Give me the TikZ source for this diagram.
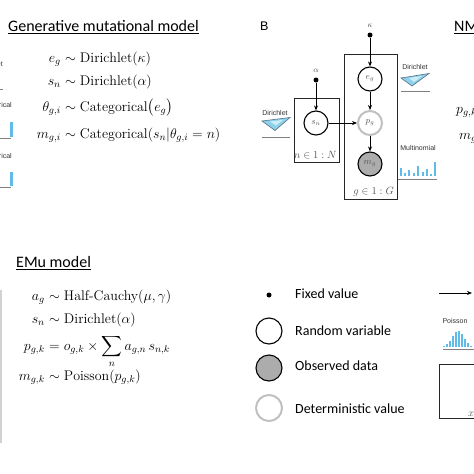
\documentclass[tikz,border=0pt]{standalone}
\usepackage{fix-cm}
\usepackage{amsmath}
\usepackage{fontspec}
\newfontfamily\carl{Carlito}
\newfontfamily\arl{Liberation Sans}
\usetikzlibrary{arrows.meta}
\definecolor{iconblue}{RGB}{95,188,232}
\definecolor{tribord}{RGB}{85,110,130}
\definecolor{trifill}{RGB}{140,210,235}
\definecolor{trilight}{RGB}{205,238,248}
\definecolor{detgray}{RGB}{192,192,192}
\definecolor{obsgray}{RGB}{172,172,172}
\definecolor{labgray}{RGB}{85,85,85}
\begin{document}
\begin{tikzpicture}[x=1pt,y=-1pt,
  eq/.style={inner sep=0pt, font=\fontsize{14}{16}\selectfont},
  title/.style={inner sep=0pt, anchor=base west, font=\carl\fontsize{16}{19}\selectfont},
  legtxt/.style={inner sep=0pt, anchor=base west, font=\carl\fontsize{14}{16}\selectfont},
  small/.style={inner sep=0pt, font=\arl\fontsize{7}{8}\selectfont, text=black!80},
  rv/.style={circle, draw=black, line width=1.1pt, minimum size=24pt, inner sep=0pt, font=\fontsize{9}{10}\selectfont, text=labgray},
  obs/.style={rv, fill=obsgray},
  det/.style={rv, draw=detgray, line width=2pt},
  fixed/.style={circle, fill=black, minimum size=5pt, inner sep=0pt},
  plate/.style={draw=black!85, line width=0.9pt, inner sep=0pt},
  arr/.style={-{Stealth[length=5pt,width=4pt]}, line width=0.8pt},
  platelab/.style={inner sep=0pt, font=\fontsize{10.5}{12}\selectfont, text=labgray},
  hyp/.style={inner sep=0pt, font=\fontsize{8}{9}\selectfont, text=labgray},
  baseline/.style={draw=gray, line width=0.6pt},
]
\useasboundingbox (0,0) rectangle (474,474);
\fill[white] (0,0) rectangle (474,474);
\clip (0,0) rectangle (474,474);

% ---------- left cut-off fragments ----------
\node[small, anchor=base east] (frd) at (3,66) {Dirichlet};
\draw[baseline] (-20,89) -- (3,89);
\node[small, anchor=base east] (frc1) at (12,107) {Categorical};
\fill[iconblue] (10,122) rectangle (12.5,137);
\draw[baseline] (-20,138) -- (11,138);
\node[small, anchor=base east] (frc2) at (12,158) {Categorical};
\fill[iconblue] (10,172) rectangle (12.5,186);
\draw[baseline] (-20,187) -- (11,187);
\draw[gray!35, line width=2pt] (1,290) -- (1,443);

% ---------- Generative mutational model ----------
\node[title] (t1) at (8,31) {\underline{Generative mutational model}};
\node[eq, anchor=base east] (a1) at (61,62) {$e_g$};
\node[eq, anchor=base west] (b1) at (65,62) {$\sim\mathrm{Dirichlet}(\kappa)$};
\node[eq, anchor=base east] (a2) at (61,85) {$s_n$};
\node[eq, anchor=base west] (b2) at (65,85) {$\sim\mathrm{Dirichlet}(\alpha)$};
\node[eq, anchor=base east] (a3) at (61,111) {$\theta_{g,i}$};
\node[eq, anchor=base west] (b3) at (65,111) {$\sim\mathrm{Categorical}\bigl(e_g\bigr)$};
\node[eq, anchor=base east] (a4) at (61,138) {$m_{g,i}$};
\node[eq, anchor=base west] (b4) at (65,138) {$\sim\mathrm{Categorical}(s_n|\theta_{g,i}=n)$};

% ---------- EMu model ----------
\node[title] (t2) at (16,267) {\underline{EMu model}};
\node[eq, anchor=base east] (c1) at (45,300) {$a_g$};
\node[eq, anchor=base west] (d1) at (49,300) {$\sim\text{Half-Cauchy}(\mu,\gamma)$};
\node[eq, anchor=base east] (c2) at (45,323) {$s_n$};
\node[eq, anchor=base west] (d2) at (49,323) {$\sim\mathrm{Dirichlet}(\alpha)$};
\node[eq, anchor=base east] (c3) at (45,350) {$p_{g,k}$};
\node[eq, anchor=base west] (d3) at (49,350) {$=o_{g,k}\times\displaystyle\sum_n a_{g,n}\,s_{n,k}$};
\node[eq, anchor=base east] (c4) at (45,380) {$m_{g,k}$};
\node[eq, anchor=base west] (d4) at (49,380) {$\sim\mathrm{Poisson}(p_{g,k})$};

% ---------- NMF (cut off) ----------
\node[title] (t3) at (454,31) {\underline{NMF model}};
\node[eq, anchor=base west] (e1) at (456,113) {$p_{g,k}=$};
\node[eq, anchor=base west] (e2) at (459,139) {$m_{g,k}\sim$};

% ---------- Panel B ----------
\node[inner sep=0pt, anchor=base west, font=\arl\fontsize{12.5}{14}\selectfont] (B) at (260,30) {B};
\node[plate, minimum width=53pt, minimum height=145pt] (Gp) at (370.5,126.5) {};
\node[plate, minimum width=45pt, minimum height=64pt] (Np) at (316.5,130) {};
\node[platelab, anchor=base east] (Gl) at (394,194) {$g\in1:G$};
\node[platelab, anchor=base east] (Nl) at (337,158) {$n\in1:N$};
\node[hyp] (klab) at (370,26) {$\kappa$};
\node[fixed] (kdot) at (370,35) {};
\node[hyp] (alab) at (316,71) {$\alpha$};
\node[fixed] (adot) at (316,80) {};
\node[rv] (eg) at (370,79) {$e_g$};
\node[det] (pg) at (370,123) {$p_g$};
\node[obs] (mg) at (370,164) {$m_g$};
\node[rv] (sn) at (316,123) {$s_n$};
\draw[arr] (kdot) -- (eg);
\draw[arr] (adot) -- (sn);
\draw[arr] (eg) -- (pg);
\draw[arr] (pg) -- (mg);
\draw[arr] (sn) -- (pg);

% Dirichlet icon left
\node[small] (dl) at (275,113) {Dirichlet};
\filldraw[draw=tribord, fill=trifill, line width=0.6pt] (262,121) -- (290,117.5) -- (275,130.5) -- cycle;
\fill[trilight] (270,121.5) -- (283,120) -- (276,125.5) -- cycle;
\draw[baseline] (262,137) -- (290,137);
% Dirichlet icon right
\node[small] (dr) at (415,67) {Dirichlet};
\filldraw[draw=tribord, fill=trifill, line width=0.6pt] (401,78) -- (429,73.5) -- (412,86) -- cycle;
\fill[trilight] (409,78) -- (422,76) -- (414,82) -- cycle;
\draw[baseline] (401,91) -- (430,91);
% Multinomial icon
\node[small] (mu) at (418,148) {Multinomial};
\foreach \x/\h in {401/8,405/3,409/6,413.5/3,418/10,422.5/4,427/7,431/2,435/14}
  \fill[iconblue] (\x-1,176) rectangle (\x+1,176-\h);
\draw[baseline] (398,179) -- (437,179);

% ---------- Legend ----------
\node[fixed] (ldot) at (269,295) {};
\node[legtxt] (lt1) at (295,298) {Fixed value};
\node[rv, minimum size=26pt] (lrv) at (269,331) {};
\node[legtxt] (lt2) at (295,335) {Random variable};
\node[obs, minimum size=26pt] (lobs) at (269,368) {};
\node[legtxt] (lt3) at (295,370) {Observed data};
\node[det, minimum size=26pt] (ldet) at (269,408) {};
\node[legtxt] (lt4) at (295,413) {Deterministic value};

\coordinate (la1) at (439,293);
\coordinate (la2) at (472,293);
\draw[arr] (la1) -- (la2);
\node[small] (po) at (455,321) {Poisson};
\foreach \x/\h in {444/1,447/3,450/6.5,453/11,456/15,459/16,462/13,465/8,468/4,471/1.5}
  \fill[iconblue] (\x-1.2,347) rectangle (\x+1.2,347-\h);
\draw[baseline] (443,349) -- (480,349);
\node[plate, minimum width=60pt, minimum height=54pt, anchor=north west] (lplate) at (439,364) {};
\node[platelab, anchor=base west] (lpl) at (468,416) {$x\in1:X$};
\end{tikzpicture}
\end{document}
